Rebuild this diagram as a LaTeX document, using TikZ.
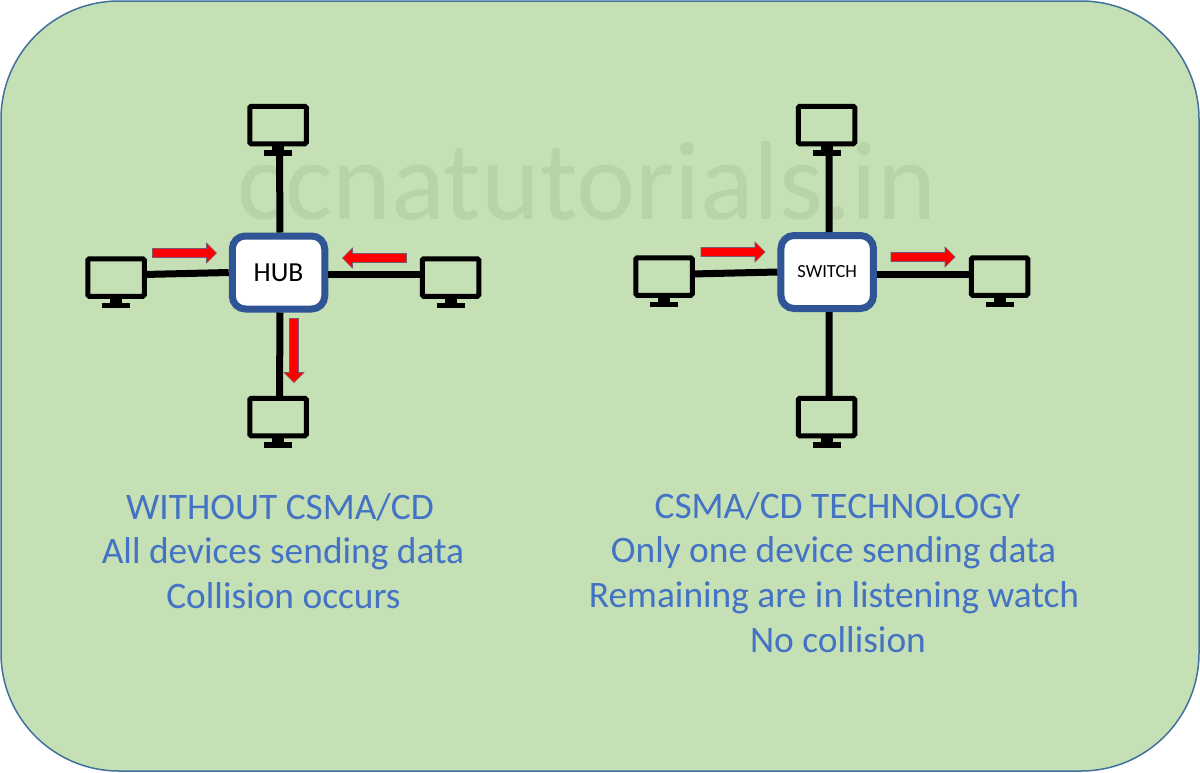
\documentclass[tikz,border=0pt]{standalone}
\usepackage{fontspec}
\setmainfont{Carlito}
\definecolor{panelfill}{HTML}{C5E0B4}
\definecolor{panelline}{HTML}{41719C}
\definecolor{hubline}{HTML}{2F5597}
\definecolor{captionblue}{HTML}{4472C4}
\definecolor{markcolor}{HTML}{B8D2A9}
\definecolor{arrowline}{HTML}{7A5A70}
\tikzset{
  screen/.style={draw=black,line width=5pt,fill=none,rounded corners=1.5pt,inner sep=0pt,minimum width=56.5pt,minimum height=37.5pt},
  hubbox/.style={draw=hubline,line width=7pt,fill=white,rounded corners=13pt,inner sep=0pt,minimum width=92.5pt,minimum height=73pt,text=black},
  cable/.style={draw=black,line width=7pt},
  caption/.style={text=captionblue,font=\fontsize{37.4}{42}\selectfont,inner sep=0pt,anchor=base},
  redshape/.style={fill=red,draw=arrowline,line width=.6pt},
}
% name, centre x, screen centre y
\newcommand{\monitor}[3]{%
  \node[screen] (#1) at (#2,#3) {};
  \fill[black] (#2-6,#3+21) rectangle (#2+6,#3+27);
  \fill[black] (#2-14,#3+25) rectangle (#2+14,#3+30.5);
}
% tail x, y, rotation
\newcommand{\redarrow}[3]{%
  \begin{scope}[shift={(#1,#2)},rotate=#3]
    \draw[redshape] (0,-4.5) -- (54,-4.5) -- (54,-10) -- (64,0) -- (54,10) -- (54,4.5) -- (0,4.5) -- cycle;
  \end{scope}
}
\begin{document}
\begin{tikzpicture}[x=1pt,y=-1pt]
\useasboundingbox (0,0) rectangle (1200,772);
\fill[white] (0,0) rectangle (1200,772);
\draw[fill=panelfill,draw=panelline,line width=1.5pt,rounded corners=118pt] (1,1) rectangle (1199,771);
\node[text=markcolor,font=\fontsize{112}{120}\selectfont,inner sep=0pt] (mark) at (587,181) {ccnatutorials.in};

% left network
\monitor{lt}{278}{125}
\monitor{ll}{116}{277.5}
\monitor{lr}{450.5}{277.5}
\monitor{lb}{278}{417}
\node[hubbox,font=\fontsize{27.5}{30}\selectfont] (hub) at (278.5,272.5) {HUB};
\draw[cable] ([xshift=1.5pt,yshift=-6pt]lt.south) -- ([xshift=1.5pt]hub.north);
\draw[cable] ([xshift=-3pt,yshift=3pt]ll.east) -- (hub.west);
\draw[cable] ([yshift=-2pt]hub.east) -- ([xshift=3pt,yshift=3pt]lr.west);
\draw[cable] ([xshift=1.5pt]hub.south) -- ([xshift=1.5pt,yshift=-2pt]lb.north);
\redarrow{152.5}{253}{0}
\redarrow{406.5}{258}{180}
\redarrow{294}{318.5}{-90}

% right network
\monitor{rt}{826.5}{125}
\monitor{rl}{664}{276.5}
\monitor{rr}{999.5}{276.5}
\monitor{rb}{826.5}{417}
\node[hubbox,font=\fontsize{18.5}{22}\selectfont] (sw) at (827.2,272) {SWITCH};
\draw[cable] ([xshift=2.5pt,yshift=-6pt]rt.south) -- ([xshift=2pt]sw.north);
\draw[cable] ([xshift=-3pt,yshift=2.5pt]rl.east) -- (sw.west);
\draw[cable] ([yshift=-2pt]sw.east) -- ([xshift=3pt,yshift=2.5pt]rr.west);
\draw[cable] ([xshift=2pt]sw.south) -- ([xshift=2.5pt,yshift=-2pt]rb.north);
\redarrow{701}{252}{0}
\redarrow{891}{257}{0}

% captions
\node[caption] (c1) at (280,519) {WITHOUT CSMA/CD};
\node[caption] (c2) at (283,563.5) {All devices sending data};
\node[caption] (c3) at (283.5,608.5) {Collision occurs};
\node[caption] (d1) at (837.5,518) {CSMA/CD TECHNOLOGY};
\node[caption] (d2) at (833.5,562.5) {Only one device sending data};
\node[caption] (d3) at (834,607.5) {Remaining are in listening watch};
\node[caption] (d4) at (838,652.5) {No collision};
\end{tikzpicture}
\end{document}
